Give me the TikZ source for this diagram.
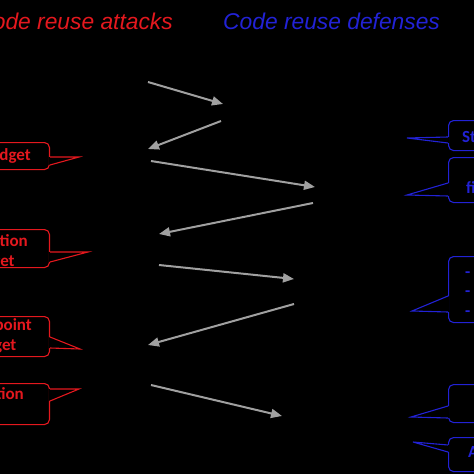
\documentclass[tikz,border=0pt]{standalone}
\usepackage{fontspec}
\setmainfont{Liberation Sans}
\newfontfamily\calfont{Carlito}
\usetikzlibrary{arrows.meta}
\definecolor{atkred}{RGB}{228,24,30}
\definecolor{defblue}{RGB}{34,34,214}
\definecolor{arrgray}{RGB}{160,160,160}
\begin{document}
\begin{tikzpicture}[x=1pt,y=-1pt,
  title/.style={font=\fontsize{22.8}{26}\selectfont\itshape, inner sep=0pt},
  redbox/.style={draw=atkred, line width=1.1pt, rounded corners=5pt, fill=black, inner sep=0pt},
  bluebox/.style={draw=defblue, line width=1.1pt, rounded corners=5pt, fill=black, inner sep=0pt},
  redptr/.style={draw=atkred, line width=1.1pt},
  blueptr/.style={draw=defblue, line width=1.1pt},
  redtxt/.style={text=atkred, font=\calfont\bfseries\fontsize{17}{19.5}\selectfont, inner sep=0pt, align=center},
  bluetxt/.style={text=defblue, font=\calfont\bfseries\fontsize{17}{19.5}\selectfont, inner sep=0pt, align=left},
  flow/.style={draw=arrgray, line width=2pt, -{Triangle[length=11pt,width=9pt]}},
]
\fill[black] (0,0) rectangle (474,474);
\useasboundingbox (0,0) rectangle (474,474);
\clip (0,0) rectangle (474,474);

% titles
\node[title, text=atkred, anchor=base east] (ta) at (173,29) {Code reuse attacks};
\node[title, text=defblue, anchor=base west] (td) at (223,29) {Code reuse defenses};

% ---------- left (attack) callouts ----------
\node[redbox, minimum width=120pt, minimum height=27pt, anchor=north east] (l1) at (50,142) {};
\node[redbox, minimum width=120pt, minimum height=38pt, anchor=north east] (l2) at (50,229) {};
\node[redbox, minimum width=120pt, minimum height=40pt, anchor=north east] (l3) at (50,316) {};
\node[redbox, minimum width=120pt, minimum height=41pt, anchor=north east] (l4) at (50,383) {};

\coordinate (l1a) at (50,157); \coordinate (l1p) at (79,157); \coordinate (l1b) at (50,165);
\coordinate (l2a) at (50,252); \coordinate (l2p) at (88,252); \coordinate (l2b) at (50,262);
\coordinate (l3a) at (50,337); \coordinate (l3p) at (80,349); \coordinate (l3b) at (50,348);
\coordinate (l4a) at (50,389); \coordinate (l4p) at (79,389); \coordinate (l4b) at (50,401);

\foreach \n in {l1,l2,l3,l4}{
  \fill[black] ([xshift=-1.5pt]\n a) -- (\n p) -- ([xshift=-1.5pt]\n b) -- cycle;
  \draw[redptr] (\n a) -- (\n p) -- (\n b);
}

\node[redtxt, anchor=base east] (t1) at (31,160) {Ret gadget};
\node[redtxt, anchor=base east] (t2) at (28,266) {Invocation\\gadget};
\node[redtxt, anchor=base east] (t3) at (32,350) {Entry point\\gadget};
\node[redtxt, anchor=base east] (t4) at (24,399) {Function};

% ---------- right (defense) callouts ----------
\node[bluebox, minimum width=120pt, minimum height=30pt, anchor=north west] (r1) at (448,120) {};
\node[bluebox, minimum width=120pt, minimum height=45pt, anchor=north west] (r2) at (448,157) {};
\node[bluebox, minimum width=120pt, minimum height=66pt, anchor=north west] (r3) at (448,256) {};
\node[bluebox, minimum width=120pt, minimum height=38pt, anchor=north west] (r4) at (448,384) {};
\node[bluebox, minimum width=120pt, minimum height=34pt, anchor=north west] (r5) at (448,437) {};

\coordinate (r1a) at (448,137); \coordinate (r1p) at (407,138); \coordinate (r1b) at (448,143);
\coordinate (r2a) at (448,183); \coordinate (r2p) at (407,195); \coordinate (r2b) at (448,196);
\coordinate (r3a) at (448,296); \coordinate (r3p) at (412,311); \coordinate (r3b) at (448,312);
\coordinate (r4a) at (448,406); \coordinate (r4p) at (411,417); \coordinate (r4b) at (448,418);
\coordinate (r5a) at (448,445); \coordinate (r5p) at (413,442); \coordinate (r5b) at (448,452);

\foreach \n in {r1,r2,r3,r4,r5}{
  \fill[black] ([xshift=1.5pt]\n a) -- (\n p) -- ([xshift=1.5pt]\n b) -- cycle;
  \draw[blueptr] (\n a) -- (\n p) -- (\n b);
}

\node[bluetxt, anchor=base west] (s1) at (462,142) {Stack canary};
\node[bluetxt, anchor=base west] (s2) at (466,193) {fine-grained CFI};
\node[bluetxt, anchor=base west] (s3) at (465,316) {- Isolation\\- ASLR\\- Integrity};
\node[bluetxt, anchor=base west] (s5) at (468,457) {ASLR};

% ---------- arrows ----------
\coordinate (a1s) at (148,82);  \coordinate (a1e) at (223,104);
\coordinate (a2s) at (221,121); \coordinate (a2e) at (148,149);
\coordinate (a3s) at (151,161); \coordinate (a3e) at (315,187);
\coordinate (a4s) at (313,203); \coordinate (a4e) at (159,234);
\coordinate (a5s) at (159,265); \coordinate (a5e) at (294,279);
\coordinate (a6s) at (294,304); \coordinate (a6e) at (148,345);
\coordinate (a7s) at (151,385); \coordinate (a7e) at (282,416);
\foreach \k in {1,...,7}{
  \draw[flow] (a\k s) -- (a\k e);
}
\end{tikzpicture}
\end{document}
